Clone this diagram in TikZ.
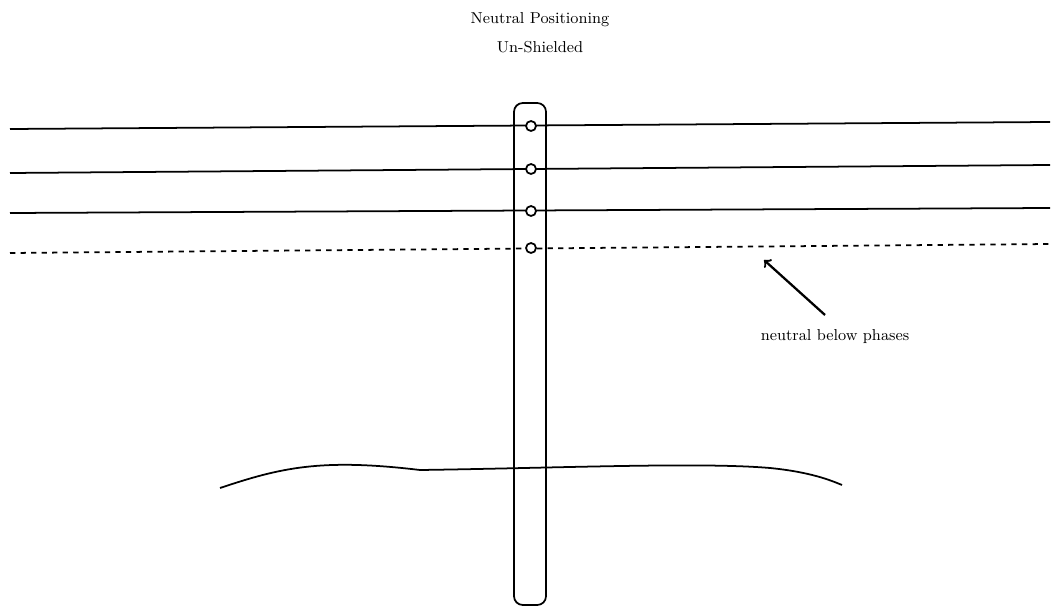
\documentclass[tikz,border=0pt]{standalone}
\begin{document}
\begin{tikzpicture}[x=0.02cm,y=-0.02cm,line width=1pt]
	\useasboundingbox (0,0) rectangle (1060,614);
	
	% title
	\node (t1) at (540,20) {\small Neutral Positioning};
	\node (t2) at (540,47) {\small Un-Shielded};
	
	% pole
	\draw[rounded corners=5pt] (514,103) rectangle (546,605);
	
	% phases
	\draw (10,129) -- (1050,122);
	\draw (10,173) -- (1050,165);
	\draw (10,213) -- (1050,208);
	\draw[dashed] (10,253) -- (1050,244);
	
	% insulators
	\draw[fill=white] (531,126) circle (5);
	\draw[fill=white] (531,169) circle (5);
	\draw[fill=white] (531,211) circle (5);
	\draw[fill=white] (531,248) circle (5);
	
	% ground
	\draw (220,488) .. controls (280,468) and (320,458) .. (420,470)
		.. controls (560,468) and (700,462) .. (770,468)
		.. controls (810,472) and (830,480) .. (842,485);
	
	\node (n) at (835,337) {\small neutral below phases};
	\coordinate (a) at (764,260);
	\draw[->,line width=1.3pt] (825,315) -- (a);
	
\end{tikzpicture}
\end{document}
